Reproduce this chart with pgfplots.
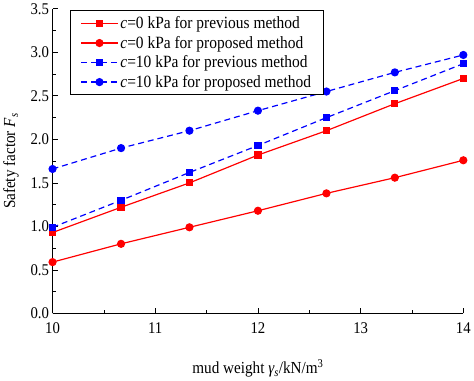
\documentclass[border=0pt]{standalone}
\usepackage{pgfplots}
\pgfplotsset{compat=1.18}
\usepackage{fontspec}
\setmainfont{Liberation Serif}[FakeStretch=0.9]
\definecolor{myred}{RGB}{255,0,0}
\definecolor{myblue}{RGB}{0,0,255}
\begin{document}
\begin{tikzpicture}
\begin{axis}[
  scale only axis, width=414pt, height=307pt,
  xmin=10, xmax=14, ymin=0, ymax=3.5,
  axis lines*=left, axis line style={-, line width=0.8pt},
  xtick={10,11,12,13,14}, ytick={0,0.5,1,1.5,2,2.5,3,3.5},
  minor x tick num=1, minor y tick num=1,
  tick align=inside, major tick length=5pt, minor tick length=3pt,
  tick style={line width=0.8pt, black},
  /pgf/number format/assume math mode=true,
  yticklabel style={/pgf/number format/.cd, fixed, fixed zerofill, precision=1},
  xticklabel style={yshift=-6pt, /pgf/number format/.cd, fixed, precision=0},
  tick label style={font=\fontsize{16.5}{19}\selectfont},
  label style={font=\fontsize{17}{19}\selectfont},
  xlabel={mud weight {\itshape γ}\textsubscript{\itshape s}/kN/m\textsuperscript{3}},
  ylabel={Safety factor {\itshape F}\textsubscript{\itshape s}},
  xlabel style={at={(axis description cs:0.5,-0.18)}, anchor=center},
  ylabel style={at={(axis description cs:-0.101,0.5)}, anchor=center},
  legend style={at={(axis description cs:0.043,0.995)}, anchor=north west,
    font=\fontsize{17.3}{19}\selectfont, draw=black, line width=0.8pt,
    row sep=2pt, inner xsep=10pt, inner ysep=4pt},
  legend cell align=left,
  legend image code/.code={\draw[mark repeat=2,mark phase=2,#1] plot coordinates {(0cm,0cm) (0.65cm,0cm) (1.3cm,0cm)};},
]
\addplot[myred, line width=1.2pt, mark=square*, mark size=3pt, mark options={solid}]
 coordinates {(10,0.93) (10.667,1.22) (11.333,1.50) (12,1.82) (12.667,2.10) (13.333,2.41) (14,2.70)};
\addlegendentry{{\itshape c}=0 kPa for previous method}
\addplot[myred, line width=1.2pt, mark=*, mark size=3.5pt, mark options={solid}]
 coordinates {(10,0.59) (10.667,0.80) (11.333,0.99) (12,1.18) (12.667,1.38) (13.333,1.56) (14,1.76)};
\addlegendentry{{\itshape c}=0 kPa for proposed method}
\addplot[myblue, line width=1.2pt, dash pattern=on 6pt off 4pt, mark=square*, mark size=3pt, mark options={solid}]
 coordinates {(10,0.99) (10.667,1.30) (11.333,1.62) (12,1.93) (12.667,2.25) (13.333,2.56) (14,2.87)};
\addlegendentry{{\itshape c}=10 kPa for previous method}
\addplot[myblue, line width=1.2pt, dash pattern=on 6pt off 4pt, mark=*, mark size=3.5pt, mark options={solid}]
 coordinates {(10,1.66) (10.667,1.90) (11.333,2.10) (12,2.33) (12.667,2.55) (13.333,2.77) (14,2.97)};
\addlegendentry{{\itshape c}=10 kPa for proposed method}
\end{axis}
\end{tikzpicture}
\end{document}
